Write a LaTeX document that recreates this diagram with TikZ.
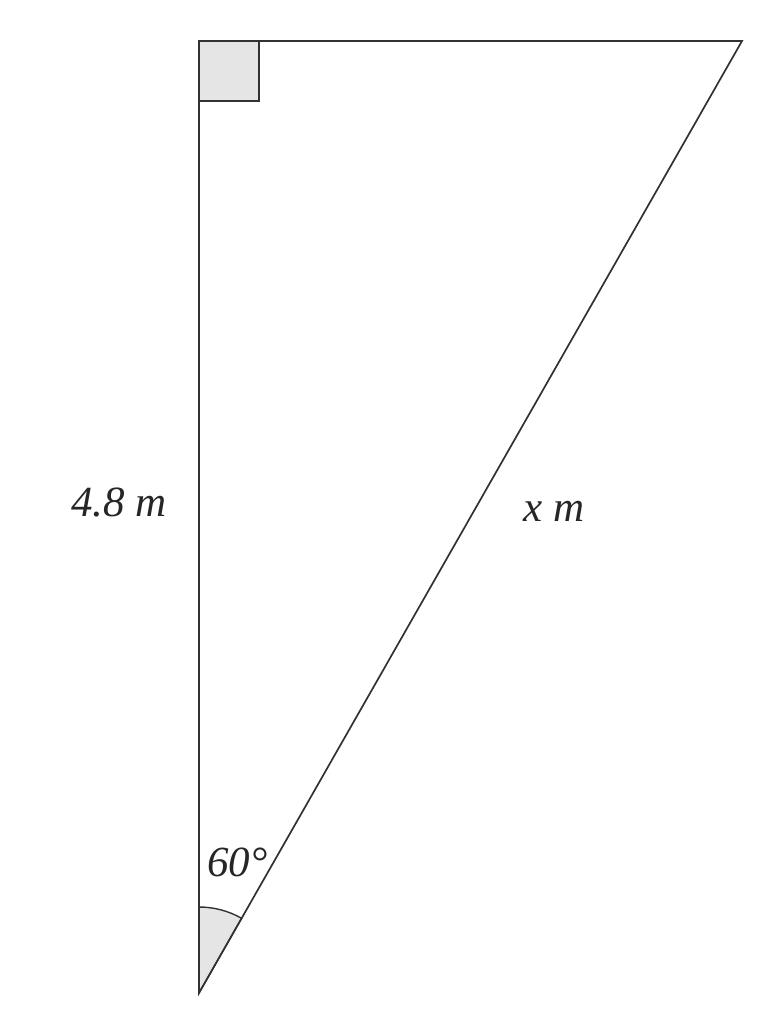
\documentclass[tikz,border=0pt]{standalone}
\usepackage{fontspec}
\setmainfont{Liberation Serif}
\definecolor{edge}{RGB}{50,50,50}
\definecolor{shade}{RGB}{229,229,229}
\tikzset{
  side/.style={draw=edge, line width=1.7pt, line join=miter},
  lbl/.style={font=\fontsize{43}{48}\selectfont\itshape, inner sep=0pt, anchor=base west, text=black!85}
}
\begin{document}
\begin{tikzpicture}[x=1pt,y=-1pt]
\useasboundingbox (0,0) rectangle (768,1015);
\coordinate (A) at (199,41);
\coordinate (B) at (742,41);
\coordinate (C) at (199,993);
% right angle mark
\filldraw[fill=shade, draw=edge, line width=1.7pt] (A) rectangle (259,101);
% angle mark at C
\filldraw[fill=shade, draw=edge, line width=1.4pt] (C) -- ++(0,-86) arc[start angle=-90, end angle=-60.3, radius=86] -- cycle;
\draw[side] (A) -- (B) -- (C) -- cycle;
\node[lbl] (l1) at (71,516.7) {4.8 m};
\node[lbl] (l2) at (523,521.7) {x m};
\node[lbl] (l3) at (207,876) {60°};
\end{tikzpicture}
\end{document}
